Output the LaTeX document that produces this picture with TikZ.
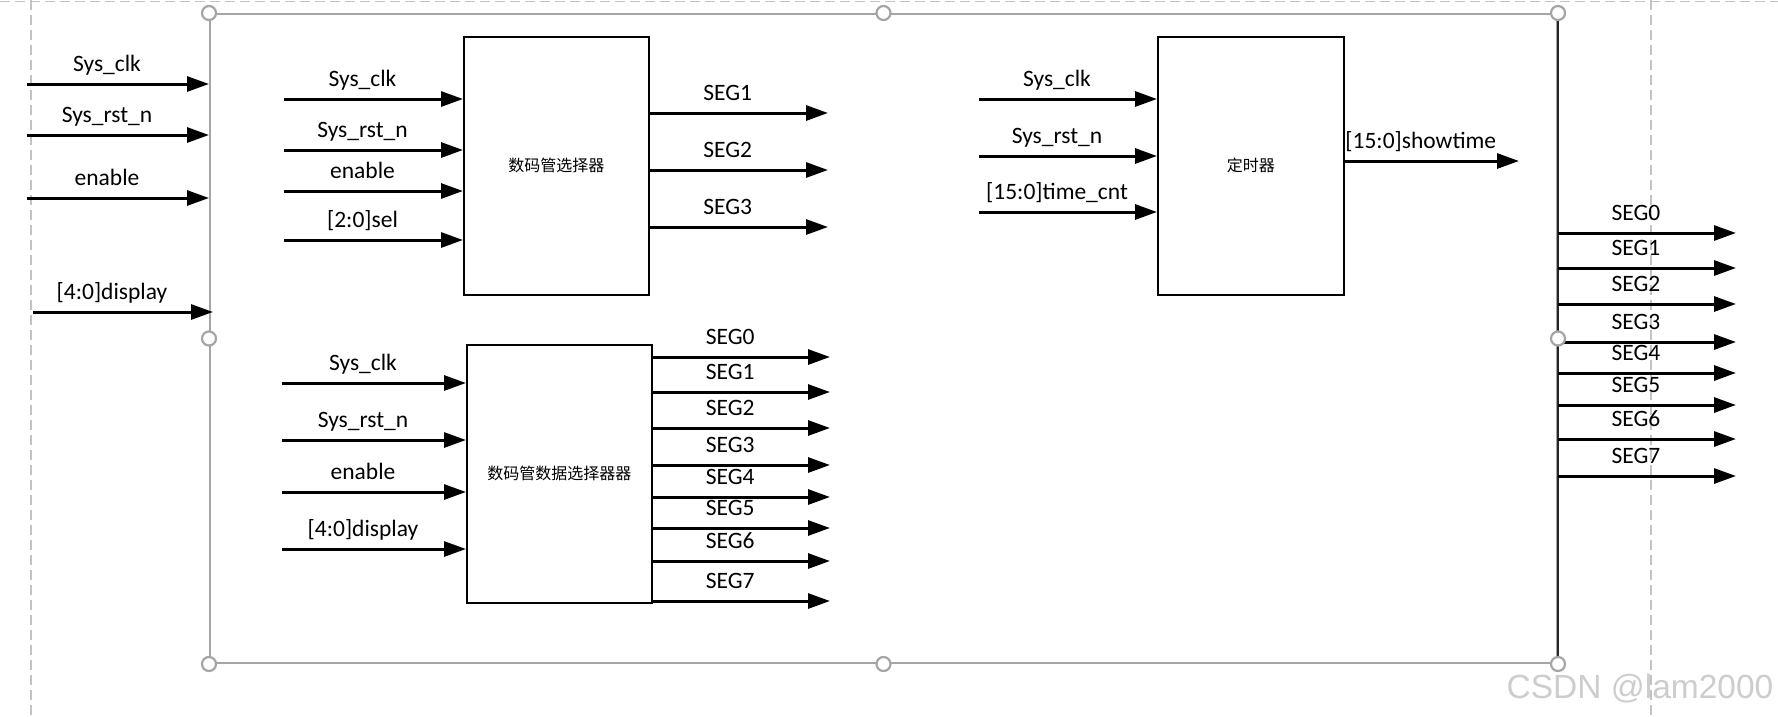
\documentclass[tikz,border=0pt]{standalone}
\usepackage{fontspec}
\setmainfont{Carlito}
\newfontfamily\cjk{Noto Sans CJK SC}
\newfontfamily\wmfont{Liberation Sans}
\usetikzlibrary{arrows.meta}
\definecolor{selgray}{RGB}{165,165,165}
\definecolor{dashgray}{RGB}{195,195,195}
\definecolor{wmgray}{RGB}{205,205,205}
\begin{document}
\begin{tikzpicture}[x=1pt,y=-1pt,
  sig/.style={line width=3pt,-{Triangle[length=22pt,width=15pt]}},
  blk/.style={draw,line width=1.5pt,inner sep=0pt,anchor=north west,
    font=\cjk\fontsize{16}{19}\selectfont},
  lab/.style={font=\fontsize{23.5}{28}\selectfont,anchor=base,inner sep=0pt,
    midway,xshift=-11pt,yshift=12.5pt},
  dashln/.style={draw=dashgray,line width=1.5pt,dash pattern=on 10pt off 5pt},
  handle/.style={circle,draw=selgray,fill=white,line width=2.2pt,
    minimum size=14pt,inner sep=0pt},
  bus/.style={line width=2.2pt,draw=black!85}]
\useasboundingbox (0,0) rectangle (1778,716);

% page guides
\draw[dashln] (0,1.5) -- (1778,1.5);
\draw[dashln] (31,0) -- (31,716);
\draw[dashln] (1651,0) -- (1651,716);

% selection frame
\node[draw=selgray,line width=2pt,inner sep=0pt,anchor=north west,
  minimum width=1347pt,minimum height=649pt] (sel) at (209,13) {};
\draw[bus] (sel.north east) -- (sel.south east);

% blocks
\node[blk,minimum width=185pt,minimum height=258pt] (b1) at (463,36) {数码管选择器};
\node[blk,minimum width=185pt,minimum height=258pt] (b2) at (466,344) {数码管数据选择器器};
\node[blk,minimum width=186pt,minimum height=258pt] (b3) at (1157,36) {定时器};

% left inputs
\foreach \y/\t [count=\i] in {84/Sys\_clk,135/Sys\_rst\_n,198/enable}{
  \coordinate (l\i) at (27,\y);
  \draw[sig] (l\i) -- (l\i -| sel.west) node[lab] {\t};
}
\coordinate (l4) at (33,312);
\coordinate (l4e) at (213,312);
\draw[sig] (l4) -- (l4e) node[lab] {[4:0]display};

% block 1 inputs / outputs
\foreach \y/\t [count=\i] in {99/Sys\_clk,150/Sys\_rst\_n,191/enable,240/{[2:0]sel}}{
  \coordinate (p\i) at (284,\y);
  \draw[sig] (p\i) -- (p\i -| b1.west) node[lab] {\t};
}
\foreach \y/\t [count=\i] in {113/SEG1,170/SEG2,227/SEG3}{
  \coordinate (q\i) at (828,\y);
  \draw[sig] (q\i -| b1.east) -- (q\i) node[lab] {\t};
}

% block 2 inputs / outputs
\foreach \y/\t [count=\i] in {383/Sys\_clk,440/Sys\_rst\_n,492/enable,549/{[4:0]display}}{
  \coordinate (r\i) at (282,\y);
  \draw[sig] (r\i) -- (r\i -| b2.west) node[lab] {\t};
}
\foreach \y/\t [count=\i] in {357/SEG0,392/SEG1,428/SEG2,465/SEG3,497/SEG4,528/SEG5,561/SEG6,601/SEG7}{
  \coordinate (s\i) at (830,\y);
  \draw[sig] (s\i -| b2.east) -- (s\i) node[lab] {\t};
}

% block 3 inputs / output
\foreach \y/\t [count=\i] in {99/Sys\_clk,156/Sys\_rst\_n,212/{[15:0]time\_cnt}}{
  \coordinate (u\i) at (979,\y);
  \draw[sig] (u\i) -- (u\i -| b3.west) node[lab] {\t};
}
\coordinate (v1) at (1519,161);
\draw[sig] (v1 -| b3.east) -- (v1) node[lab] {[15:0]showtime};

% right outputs from bus
\foreach \y/\t [count=\i] in {233/SEG0,268/SEG1,304/SEG2,342/SEG3,373/SEG4,405/SEG5,439/SEG6,476/SEG7}{
  \coordinate (w\i) at (1736,\y);
  \draw[sig] (w\i -| sel.east) -- (w\i) node[lab] {\t};
}

% selection handles
\foreach \a/\n in {north west/h1,north/h2,north east/h3,west/h4,east/h5,south west/h6,south/h7,south east/h8}{
  \node[handle] (\n) at (sel.\a) {};
}

% watermark
\node[font=\wmfont\fontsize{33.5}{40}\selectfont,text=wmgray,anchor=base,inner sep=0pt]
  (wm) at (1640,698) {CSDN @lam2000};
\end{tikzpicture}
\end{document}
